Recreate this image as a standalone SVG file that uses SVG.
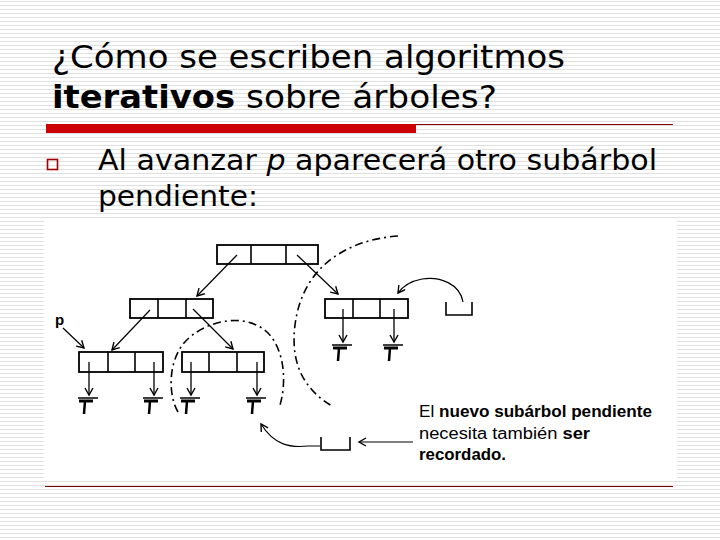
<svg xmlns="http://www.w3.org/2000/svg" width="720" height="540" viewBox="0 0 720 540">
<defs>
<pattern id="lines" width="8" height="4" patternUnits="userSpaceOnUse">
<rect width="8" height="4" fill="#ffffff"/>
<rect y="1" width="8" height="1" fill="#e0e0e0"/>
</pattern>
<marker id="arr" markerWidth="10" markerHeight="10" refX="8" refY="4.5" orient="auto" markerUnits="userSpaceOnUse">
<path d="M1,0.5 L8,4.5 L1,8.5" fill="none" stroke="#000" stroke-width="1.4"/>
</marker>
<g id="gnd">
<line x1="-11" y1="0" x2="9" y2="0" stroke="#000" stroke-width="1.5"/>
<line x1="-10" y1="3" x2="4" y2="3" stroke="#000" stroke-width="3"/>
<line x1="-4" y1="3" x2="-5" y2="16" stroke="#000" stroke-width="2.5"/>
</g>
</defs>
<style>
.node rect{fill:#fff;stroke:#000;stroke-width:1.8}
.node line{stroke:#000;stroke-width:1.6}
.conn{fill:none;stroke:#000;stroke-width:1.2}
.dash{fill:none;stroke:#000;stroke-width:1.6;stroke-dasharray:8 4 2 4}
.nul{stroke:#000;stroke-width:1.3}
.title{font-family:"DejaVu Sans",Verdana,sans-serif;font-size:32px;fill:#000}
.body{font-family:"DejaVu Sans",Verdana,sans-serif;font-size:29px;fill:#000}
.note{font-family:"Liberation Sans",Arial,sans-serif;font-size:16px;fill:#000}
</style>
<rect width="720" height="540" fill="url(#lines)"/>

<g id="title">
<text class="title" x="52" y="68" textLength="513" lengthAdjust="spacingAndGlyphs">¿Cómo se escriben algoritmos</text>
<text class="title" x="52" y="108" font-weight="bold" textLength="183" lengthAdjust="spacingAndGlyphs">iterativos</text>
<text class="title" x="246" y="108" textLength="251" lengthAdjust="spacingAndGlyphs">sobre árboles?</text>
</g>
<g id="rule">
<rect x="46" y="124" width="370" height="9" fill="#cc0000"/>
<line x1="416" y1="124.5" x2="673" y2="124.5" stroke="#800000" stroke-width="1"/>
</g>
<g id="bullet">
<rect x="47.5" y="159.5" width="10" height="10" fill="none" stroke="#a00000" stroke-width="1.6"/>
<text class="body" x="98" y="170" textLength="559" lengthAdjust="spacingAndGlyphs">Al avanzar <tspan font-style="italic">p</tspan> aparecerá otro subárbol</text>
<text class="body" x="98" y="206" textLength="160" lengthAdjust="spacingAndGlyphs">pendiente:</text>
</g>

<rect id="figure" x="44" y="220" width="633" height="260" fill="#ffffff"/>

<g id="node-root" class="node">
<rect x="217" y="245" width="101" height="19"/>
<line x1="251" y1="245" x2="251" y2="264"/>
<line x1="286" y1="245" x2="286" y2="264"/>
</g>
<g id="node-left" class="node">
<rect x="130" y="299" width="83" height="19"/>
<line x1="158" y1="299" x2="158" y2="318"/>
<line x1="186" y1="299" x2="186" y2="318"/>
</g>
<g id="node-right" class="node">
<rect x="325" y="299" width="83" height="19"/>
<line x1="353" y1="299" x2="353" y2="318"/>
<line x1="380" y1="299" x2="380" y2="318"/>
</g>
<g id="node-ll" class="node">
<rect x="79" y="352" width="84" height="20"/>
<line x1="108" y1="352" x2="108" y2="372"/>
<line x1="135" y1="352" x2="135" y2="372"/>
</g>
<g id="node-lr" class="node">
<rect x="182" y="352" width="82" height="20"/>
<line x1="209" y1="352" x2="209" y2="372"/>
<line x1="237" y1="352" x2="237" y2="372"/>
</g>
<g id="stack-top">
<path d="M446,302 V315 H472 V302" fill="none" stroke="#000" stroke-width="1.6"/>
</g>
<g id="stack-new">
<path d="M321,437 V450 H350 V437" fill="none" stroke="#000" stroke-width="1.6"/>
</g>
<g id="nulls">
<use href="#gnd" x="343" y="345"/>
<use href="#gnd" x="394" y="345"/>
<use href="#gnd" x="89" y="398"/>
<use href="#gnd" x="154" y="398"/>
<use href="#gnd" x="191" y="398"/>
<use href="#gnd" x="257" y="398"/>
</g>
<g id="label-p">
<text x="55" y="325" font-family="Liberation Sans, Arial, sans-serif" font-size="15" font-weight="bold">p</text>
</g>
<g id="note">
<text class="note" x="419" y="417" textLength="233" lengthAdjust="spacingAndGlyphs"><tspan>El </tspan><tspan font-weight="bold">nuevo subárbol pendiente</tspan></text>
<text class="note" x="419" y="439" textLength="171" lengthAdjust="spacingAndGlyphs"><tspan>necesita también </tspan><tspan font-weight="bold">ser</tspan></text>
<text class="note" x="419" y="460" font-weight="bold" textLength="87" lengthAdjust="spacingAndGlyphs">recordado.</text>
</g>

<g id="connectors">
<line class="conn" x1="237" y1="255" x2="197" y2="296" marker-end="url(#arr)"/>
<line class="conn" x1="297" y1="255" x2="338" y2="294" marker-end="url(#arr)"/>
<line class="conn" x1="150" y1="310" x2="112" y2="350" marker-end="url(#arr)"/>
<line class="conn" x1="193" y1="309" x2="233" y2="349" marker-end="url(#arr)"/>
<line class="conn" x1="63" y1="328" x2="84" y2="348" marker-end="url(#arr)"/>
<line class="nul" x1="343" y1="309" x2="343" y2="342" marker-end="url(#arr)"/>
<line class="nul" x1="394" y1="309" x2="394" y2="342" marker-end="url(#arr)"/>
<line class="nul" x1="89" y1="362" x2="89" y2="395" marker-end="url(#arr)"/>
<line class="nul" x1="154" y1="362" x2="154" y2="395" marker-end="url(#arr)"/>
<line class="nul" x1="191" y1="362" x2="191" y2="395" marker-end="url(#arr)"/>
<line class="nul" x1="257" y1="362" x2="257" y2="395" stroke-width="2" marker-end="url(#arr)"/>
<path class="dash" d="M398,236 C345,240 302,268 295,325 C290,365 305,390 332,406"/>
<path class="dash" d="M178,412 C168,395 168,362 184,343 C202,322 244,310 268,333 C286,352 286,385 280,405"/>
<path class="conn" d="M463,302 C460,284 440,276 422,279 C411,281 403,286 398,293" marker-end="url(#arr)"/>
<path class="conn" d="M320,446 L308,446 C290,448 274,445 261,424" marker-end="url(#arr)"/>
<line class="conn" x1="413" y1="442" x2="359" y2="442" marker-end="url(#arr)"/>
</g>

<line x1="45" y1="486.5" x2="673" y2="486.5" stroke="#800000" stroke-width="1"/>
</svg>
